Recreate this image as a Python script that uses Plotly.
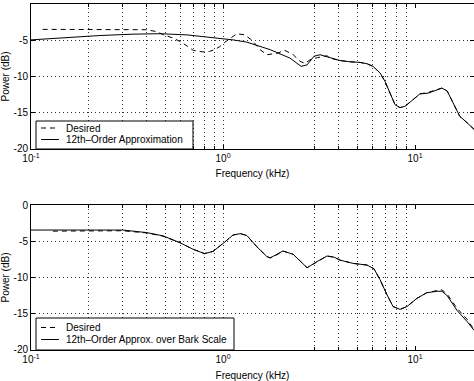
import plotly.graph_objects as go

# ---------------- data (frequency in kHz, power in dB) ----------------
top_desired_f = [0.115, 0.2, 0.3, 0.4, 0.45, 0.49, 0.55, 0.6, 0.65, 0.7, 0.78, 0.85,
                 0.9, 0.96, 1.02, 1.09, 1.18, 1.3, 1.42, 1.56, 1.69, 1.91, 2.1, 2.32,
                 2.52, 2.67, 2.84, 3.1, 3.48, 3.75, 4.07, 4.58, 5.17, 5.62, 6.04, 6.57,
                 6.98, 7.41, 7.87, 8.35, 8.87, 9.76, 10.6, 11.7, 12.7, 13.8, 14.7, 15.8,
                 17.1, 18.7, 20.0, 20.3]
top_desired_db = [-3.5, -3.5, -3.5, -3.55, -3.8, -4.25, -4.7, -5.2, -5.8, -6.4, -6.6, -6.55,
                  -6.3, -5.9, -5.3, -4.7, -4.1, -4.26, -5.04, -6.3, -7.0, -6.8, -6.4, -7.0,
                  -7.9, -8.2, -7.7, -7.4, -7.15, -7.6, -7.8, -7.97, -8.06, -8.24, -8.6, -9.5,
                  -10.7, -12.3, -13.9, -14.3, -14.1, -13.2, -12.4, -12.2, -11.9, -11.6, -12.0, -13.6,
                  -15.5, -16.4, -17.1, -17.3]

top_approx_f = [0.1, 0.154, 0.229, 0.34, 0.47, 0.649, 0.887, 1.127, 1.33, 1.45, 1.76, 2.23,
                2.55, 2.74, 2.98, 3.2, 3.61, 4.07, 4.58, 5.17, 5.62, 6.04, 6.57, 6.98,
                7.41, 7.87, 8.35, 8.87, 9.76, 10.6, 11.7, 12.7, 13.8, 14.7, 15.8, 17.1,
                18.7, 20.0, 20.3]
top_approx_db = [-4.95, -4.6, -4.35, -4.16, -4.1, -4.26, -4.6, -4.95, -5.26, -5.6, -6.3, -7.46,
                 -8.6, -8.4, -7.2, -7.0, -7.4, -7.8, -7.97, -8.06, -8.24, -8.6, -9.5, -10.7,
                 -12.3, -13.9, -14.3, -14.1, -13.2, -12.4, -12.3, -11.9, -11.6, -12.0, -13.6, -15.5,
                 -16.4, -17.1, -17.3]

bot_desired_f = [0.13, 0.2, 0.3, 0.4, 0.487, 0.597, 0.698, 0.8, 0.887, 1.0, 1.127, 1.23,
                 1.33, 1.5, 1.69, 1.76, 1.9, 2.05, 2.32, 2.74, 3.09, 3.48, 3.79, 4.07,
                 4.75, 5.62, 6.11, 6.57, 7.15, 7.68, 8.35, 9.08, 10.2, 11.5, 13.0, 13.8,
                 14.7, 16.5, 18.7, 20.0, 20.3]
bot_desired_db = [-3.6, -3.6, -3.55, -3.85, -4.3, -5.2, -6.1, -6.7, -6.4, -5.3, -4.14, -3.95,
                  -4.2, -5.75, -7.1, -7.3, -6.9, -6.34, -6.8, -8.65, -7.8, -7.03, -7.2, -7.6,
                  -8.05, -8.28, -8.8, -10.3, -12.4, -14.0, -14.4, -14.0, -12.9, -12.1, -11.8, -11.7,
                  -12.3, -14.2, -15.8, -16.9, -17.2]

bot_approx_f = [0.1, 0.2, 0.3, 0.4, 0.487, 0.597, 0.698, 0.8, 0.887, 1.0, 1.127, 1.23,
                1.33, 1.5, 1.69, 1.76, 1.9, 2.05, 2.32, 2.74, 3.09, 3.48, 3.79, 4.07,
                4.75, 5.62, 6.11, 6.57, 7.15, 7.68, 8.35, 9.08, 10.2, 11.5, 13.0, 13.8,
                14.7, 16.5, 18.7, 20.0, 20.3]
bot_approx_db = [-3.45, -3.45, -3.45, -3.8, -4.25, -5.2, -6.1, -6.7, -6.4, -5.3, -4.14, -3.95,
                 -4.2, -5.75, -7.1, -7.3, -6.8, -6.34, -6.8, -8.65, -7.8, -7.03, -7.2, -7.6,
                 -8.05, -8.28, -8.8, -10.3, -12.4, -14.0, -14.4, -14.0, -12.9, -12.1, -11.9, -11.9,
                 -12.5, -14.5, -16.1, -17.1, -17.3]

major_ticks = [0.1, 1, 10]
major_text = ["10<sup>-1</sup>", "10<sup>0</sup>", "10<sup>1</sup>"]
minor_ticks = [0.2, 0.3, 0.4, 0.5, 0.6, 0.7, 0.8, 0.9, 1, 3, 4, 5, 6, 7, 8, 9]
y_ticks = [0, -5, -10, -15, -20]
y_text = ["0", "-5", "-10", "-15", "-20"]

legend_top = ["Desired", "12th\u2013Order Approximation"]
legend_bot = ["Desired", "12th\u2013Order Approx. over Bark Scale"]

FONT = "Liberation Sans, Arial, Helvetica, sans-serif"
DASH = "5px,4px"

fig = go.Figure()
fig.add_trace(go.Scatter(x=top_desired_f, y=top_desired_db, mode="lines", name=legend_top[0],
                         line=dict(color="black", width=1, dash=DASH),
                         xaxis="x", yaxis="y", showlegend=False))
fig.add_trace(go.Scatter(x=top_approx_f, y=top_approx_db, mode="lines", name=legend_top[1],
                         line=dict(color="black", width=1),
                         xaxis="x", yaxis="y", showlegend=False))
fig.add_trace(go.Scatter(x=bot_desired_f, y=bot_desired_db, mode="lines", name=legend_bot[0],
                         line=dict(color="black", width=1, dash=DASH),
                         xaxis="x2", yaxis="y2", showlegend=False))
fig.add_trace(go.Scatter(x=bot_approx_f, y=bot_approx_db, mode="lines", name=legend_bot[1],
                         line=dict(color="black", width=1),
                         xaxis="x2", yaxis="y2", showlegend=False))


def xaxis(anchor):
    return dict(type="log", range=[-1, 1.307], anchor=anchor, automargin=False,
                tickvals=major_ticks, ticktext=major_text,
                ticks="inside", ticklen=4, tickcolor="black", tickwidth=1,
                showline=True, linecolor="black", linewidth=1, mirror="allticks",
                showgrid=False, zeroline=False,
                tickfont=dict(size=10, color="black", family=FONT),
                minor=dict(tickvals=minor_ticks, ticks="inside", ticklen=3,
                           tickcolor="black", showgrid=True, gridcolor="#333",
                           griddash="1px,3px", gridwidth=1),
                title=dict(text="Frequency (kHz)", standoff=7,
                           font=dict(size=10, color="black", family=FONT)))


def yaxis(anchor, domain):
    return dict(range=[-20, 0], domain=domain, anchor=anchor, automargin=False,
                tickvals=y_ticks, ticktext=y_text,
                ticks="inside", ticklen=4, tickcolor="black",
                showline=True, linecolor="black", linewidth=1, mirror="allticks",
                showgrid=True, gridcolor="#333", griddash="1px,3px", gridwidth=1,
                zeroline=False,
                tickfont=dict(size=10, color="black", family=FONT),
                title=dict(text="Power (dB)", standoff=2,
                           font=dict(size=10, color="black", family=FONT)))


# ---- legend boxes (drawn in plot-area "paper" coordinates) ----
W, H, L, B = 443.0, 346.0, 31.0, 350.0   # plot-area width/height, left px, bottom px


def px(xp):
    return (xp - L) / W


def py(yp):
    return (B - yp) / H


shapes = []
annotations = []


def add_legend(box, rows, labels):
    x0, x1, y0, y1 = box
    shapes.append(dict(type="rect", xref="paper", yref="paper",
                       x0=px(x0), x1=px(x1), y0=py(y1), y1=py(y0),
                       line=dict(color="black", width=1), fillcolor="white", layer="above"))
    for (ry, dash, lab) in zip(rows, ["5px,4px", "solid"], labels):
        shapes.append(dict(type="line", xref="paper", yref="paper",
                           x0=px(41), x1=px(59), y0=py(ry), y1=py(ry),
                           line=dict(color="black", width=1, dash=dash), layer="above"))
        annotations.append(dict(text=lab, xref="paper", yref="paper", x=px(64), y=py(ry),
                                xanchor="left", yanchor="middle", showarrow=False,
                                font=dict(size=10, color="black", family=FONT)))


add_legend((36, 193, 121, 149), (128, 139.5), legend_top)
add_legend((36, 234, 318, 350), (327.5, 339.5), legend_bot)

fig.update_layout(
    width=474, height=381,
    margin=dict(l=31, r=0, t=4, b=31, autoexpand=False),
    paper_bgcolor="white", plot_bgcolor="white",
    font=dict(family=FONT, color="black"),
    showlegend=False,
    xaxis=xaxis("y"), yaxis=yaxis("x", [0.581, 1.0]),
    xaxis2=xaxis("y2"), yaxis2=yaxis("x2", [0.0, 0.419]),
    shapes=shapes, annotations=annotations,
)

fig.write_html("out.html", config={"displayModeBar": False},
               post_script="document.body.style.margin='0';document.body.style.overflow='hidden';")
